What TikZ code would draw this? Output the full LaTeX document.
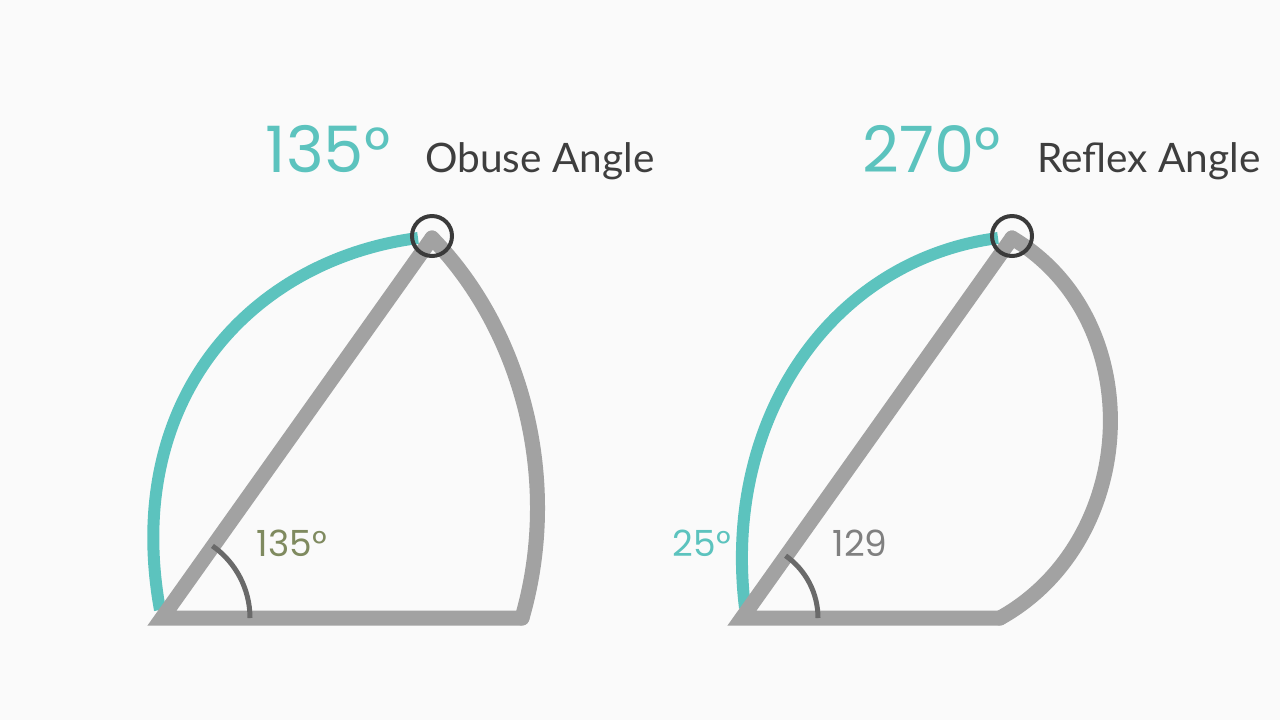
\documentclass[tikz,border=0pt]{standalone}
\usepackage{fontspec}
\setmainfont{Poppins}
\newfontfamily\titlefont{Lato}
\definecolor{sweepteal}{HTML}{5CC3BE}
\definecolor{shapegray}{HTML}{A2A2A2}
\definecolor{ringgray}{HTML}{3A3A3A}
\definecolor{markgray}{HTML}{6A6A6A}
\definecolor{textgray}{HTML}{3E3E3E}
\definecolor{olive}{HTML}{7F8A5F}

\begin{document}
\begin{tikzpicture}[x=0.5pt, y=-0.5pt,
  side/.style = {line width=7.5pt, draw=shapegray, line join=miter, line cap=round},
  sweep/.style = {line width=6pt, draw=sweepteal},
  ring/.style = {circle, draw=ringgray, line width=2pt, minimum size=20pt, inner sep=0pt},
  anglemark/.style = {line width=2.5pt, draw=markgray},
  big/.style = {text=sweepteal, font=\fontsize{32}{32}\selectfont, anchor=base, inner sep=0pt},
  title/.style = {text=textgray, font=\titlefont\fontsize{20.3}{21}\selectfont, anchor=base west, inner sep=0pt},
  small/.style = {font=\fontsize{18}{18}\selectfont, anchor=base, inner sep=0pt}]

% Background
\fill[white!98!black] (0,0) rectangle (1280,720);

% Obtuse angle
\coordinate (o1) at (162,618);
\coordinate (t1) at (432,238);
\coordinate (b1) at (522,618);

\draw[sweep] (t1) ++(-14,0) .. controls (250,260) and (122,400) .. (160,610);
\draw[side] (t1) -- (o1) -- (b1);
\draw[side] (t1) .. controls (522,330) and (562,480) .. (b1);
\draw[anglemark] (o1) ++(0:88) arc[start angle=0, end angle=-55, radius=88];
\node[ring] (r1) at (432,236) {};

\node[big] (v1) at (328,172) {135°};
\node[title] (n1) at (425,172) {Obuse Angle};
\node[small, text=olive] (a1) at (292,556) {135°};

% Reflex angle
\coordinate (o2) at (742,618);
\coordinate (t2) at (1012,238);
\coordinate (b2) at (1000,618);

\draw[sweep] (t2) ++(-14,0) .. controls (830,260) and (722,420) .. (745,608);
\draw[side] (t2) -- (o2) -- (b2);
\draw[side] (t2) .. controls (1150,320) and (1140,540) .. (b2);
\draw[anglemark] (o2) ++(0:76) arc[start angle=0, end angle=-55, radius=76];
\node[ring] (r2) at (1012,236) {};

\node[big] (v2) at (932,172) {270°};
\node[title] (n2) at (1037,172) {Reflex Angle};
\node[small, text=sweepteal] (a2) at (702,556) {25°};
\node[small, text=gray] (a3) at (860,556) {129};

\end{tikzpicture}
\end{document}
